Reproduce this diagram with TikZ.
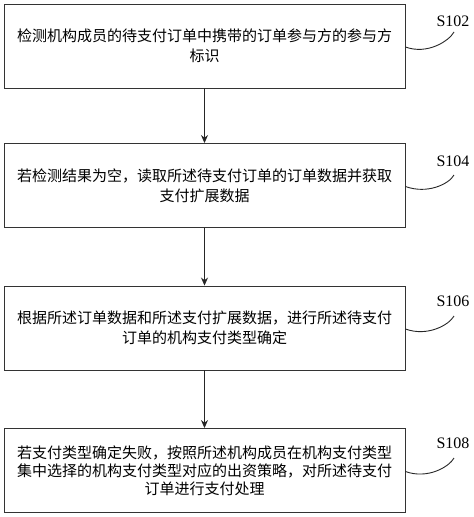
\documentclass[tikz,border=0pt]{standalone}
\usepackage{fontspec}
\setmainfont{Liberation Serif}
\newfontfamily\cjk{Noto Sans CJK SC}
\usetikzlibrary{arrows.meta}
\begin{document}
\begin{tikzpicture}[x=1pt,y=-1pt,
  stepbox/.style={draw=black!80,line width=0.9pt,minimum width=401pt,minimum height=84pt,inner sep=0pt,align=center,font=\cjk\fontsize{15}{20}\selectfont},
  steplabel/.style={font=\fontsize{16}{16}\selectfont,inner sep=0pt},
  flow/.style={draw=black!85,line width=0.9pt,-{Stealth[length=8pt,width=7pt]}},
  leader/.style={draw=black!85,line width=0.9pt}]
\useasboundingbox (0,0) rectangle (474,517);
\node[stepbox] (b1) at (204.5,46) {检测机构成员的待支付订单中携带的订单参与方的参与方\\标识};
\node[stepbox] (b2) at (204.5,185.5) {若检测结果为空，读取所述待支付订单的订单数据并获取\\支付扩展数据};
\node[stepbox] (b3) at (204.5,328) {根据所述订单数据和所述支付扩展数据，进行所述待支付\\订单的机构支付类型确定};
\node[stepbox,font=\cjk\fontsize{15}{18}\selectfont] (b4) at (204.5,470.5) {若支付类型确定失败，按照所述机构成员在机构支付类型\\集中选择的机构支付类型对应的出资策略，对所述待支付\\订单进行支付处理};
\draw[flow] (b1) -- (b2);
\draw[flow] (b2) -- (b3);
\draw[flow] (b3) -- (b4);
\node[steplabel] (l1) at (453,21) {S102};
\node[steplabel] (l2) at (453,161) {S104};
\node[steplabel] (l3) at (453,301) {S106};
\node[steplabel] (l4) at (453,443) {S108};
\coordinate (c1) at (454,32);
\coordinate (c2) at (454,175);
\coordinate (c3) at (454,316);
\coordinate (c4) at (454,458);
\draw[leader] ([yshift=-1pt]b1.east) .. controls +(22,8) and +(-5,9) .. (c1);
\draw[leader] ([yshift=-1pt]b2.east) .. controls +(22,8) and +(-5,9) .. (c2);
\draw[leader] ([yshift=-1pt]b3.east) .. controls +(22,8) and +(-5,9) .. (c3);
\draw[leader] ([yshift=-1pt]b4.east) .. controls +(22,8) and +(-5,9) .. (c4);
\end{tikzpicture}
\end{document}
